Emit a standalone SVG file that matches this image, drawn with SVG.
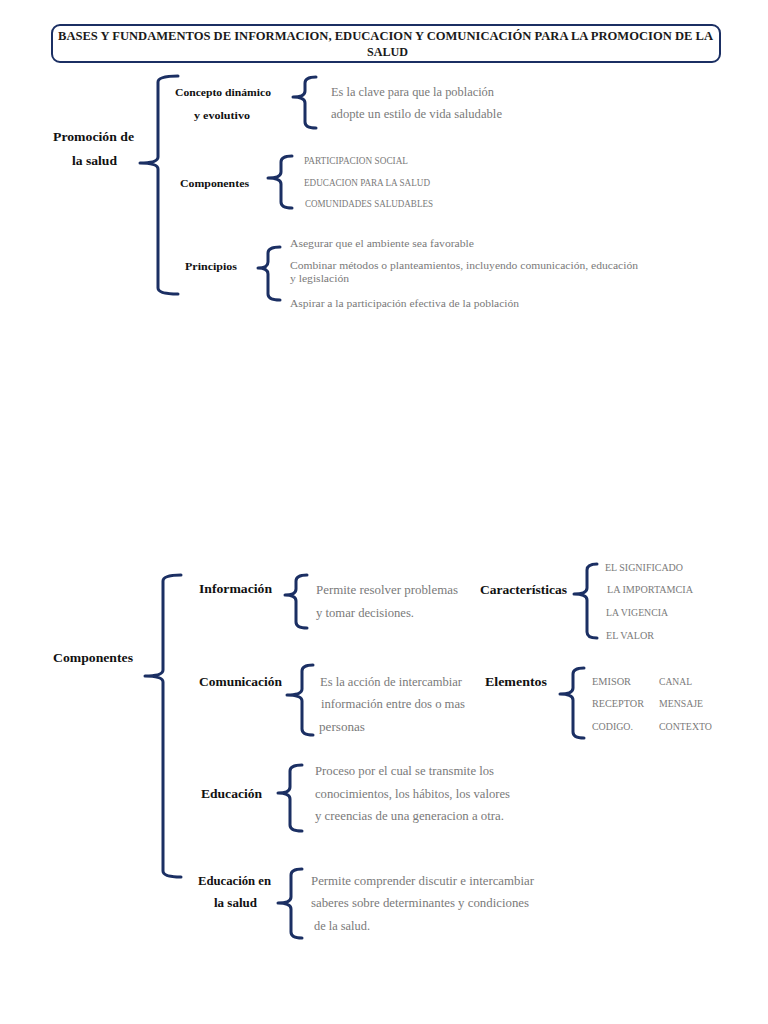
<svg xmlns="http://www.w3.org/2000/svg" width="768" height="1024" viewBox="0 0 768 1024">
<style>
.b{fill:none;stroke:#1b2f63;stroke-width:3;stroke-linecap:round;stroke-linejoin:round}
.t{font-family:"Liberation Serif","DejaVu Serif",serif;font-weight:bold;font-size:12px;fill:#111}
.s{font-family:"Liberation Serif","DejaVu Serif",serif;font-weight:bold;font-size:10.5px;fill:#111}
.g{font-family:"Liberation Serif","DejaVu Serif",serif;font-size:12px;fill:#7a7a7a}
.c{font-family:"Liberation Serif","DejaVu Serif",serif;font-size:10px;fill:#7a7a7a}
.h{font-family:"Liberation Serif","DejaVu Serif",serif;font-weight:bold;font-size:12px;fill:#1a1a1a}
</style>
<rect width="768" height="1024" fill="#fff"/>
<g id="title">
<rect x="52" y="25" width="668" height="37" rx="8" fill="#fff" stroke="#1b2f63" stroke-width="2"/>
<text class="h" x="58" y="40" textLength="655" lengthAdjust="spacingAndGlyphs">BASES Y FUNDAMENTOS DE INFORMACION, EDUCACION Y COMUNICACIÓN PARA LA PROMOCION DE LA</text>
<text class="h" x="367" y="56" textLength="41" lengthAdjust="spacingAndGlyphs">SALUD</text>
</g>
<g id="connectors">
<path class="b" d="M178,76 Q158,76 158,82 L158,157 Q158,163 140,163 Q158,163 158,169 L158,288 Q158,294 178,294"/>
<path class="b" d="M316,77 Q305,77 305,83 L305,91 Q305,97 293,97 Q305,97 305,103 L305,122 Q305,128 316,128"/>
<path class="b" d="M292,156 Q281,156 281,162 L281,172 Q281,178 268,178 Q281,178 281,184 L281,202 Q281,208 292,208"/>
<path class="b" d="M280,247 Q268,247 268,253 L268,262 Q268,268 258,268 Q268,268 268,274 L268,294 Q268,300 280,300"/>
<path class="b" d="M181,575 Q163,575 163,581 L163,670 Q163,676 145,676 Q163,676 163,682 L163,871 Q163,877 181,877"/>
<path class="b" d="M307,575 Q296,575 296,581 L296,589 Q296,595 285,595 Q296,595 296,601 L296,622 Q296,628 307,628"/>
<path class="b" d="M597,564 Q587,564 587,570 L587,588 Q587,594 574,594 Q587,594 587,600 L587,632 Q587,638 597,638"/>
<path class="b" d="M313,665 Q302,665 302,671 L302,689 Q302,695 287,695 Q302,695 302,701 L302,729 Q302,735 313,735"/>
<path class="b" d="M584,668 Q573,668 573,674 L573,688 Q573,694 560,694 Q573,694 573,700 L573,732 Q573,738 584,738"/>
<path class="b" d="M302,765 Q290,765 290,771 L290,787 Q290,793 278,793 Q290,793 290,799 L290,825 Q290,831 302,831"/>
<path class="b" d="M302,869 Q291,869 291,875 L291,897 Q291,903 278,903 Q291,903 291,909 L291,932 Q291,938 302,938"/>
</g>
<g id="promocion">
<text class="t" x="53" y="141" textLength="81" lengthAdjust="spacingAndGlyphs">Promoción de</text>
<text class="t" x="72" y="165" textLength="45" lengthAdjust="spacingAndGlyphs">la salud</text>
</g>
<g id="concepto">
<text class="s" x="175" y="96" textLength="96" lengthAdjust="spacingAndGlyphs">Concepto dinámico</text>
<text class="s" x="194" y="119" textLength="56" lengthAdjust="spacingAndGlyphs">y evolutivo</text>
</g>
<g id="concepto-desc">
<text class="g" x="331" y="96" textLength="163" lengthAdjust="spacingAndGlyphs">Es la clave para que la población</text>
<text class="g" x="331" y="118" textLength="171" lengthAdjust="spacingAndGlyphs">adopte un estilo de vida saludable</text>
</g>
<g id="componentes1">
<text class="s" x="180" y="187" textLength="69" lengthAdjust="spacingAndGlyphs">Componentes</text>
</g>
<g id="componentes1-list">
<text class="c" x="304" y="164" textLength="104" lengthAdjust="spacingAndGlyphs">PARTICIPACION SOCIAL</text>
<text class="c" x="304" y="186" textLength="126" lengthAdjust="spacingAndGlyphs">EDUCACION PARA LA SALUD</text>
<text class="c" x="305" y="207" textLength="128" lengthAdjust="spacingAndGlyphs">COMUNIDADES SALUDABLES</text>
</g>
<g id="principios">
<text class="s" x="185" y="270" textLength="52" lengthAdjust="spacingAndGlyphs">Principios</text>
</g>
<g id="principios-list">
<text class="c" x="290" y="247" textLength="184" lengthAdjust="spacingAndGlyphs">Asegurar que el ambiente sea favorable</text>
<text class="c" x="290" y="269" textLength="348" lengthAdjust="spacingAndGlyphs">Combinar métodos o planteamientos, incluyendo comunicación, educación</text>
<text class="c" x="290" y="282" textLength="59" lengthAdjust="spacingAndGlyphs">y legislación</text>
<text class="c" x="290" y="307" textLength="229" lengthAdjust="spacingAndGlyphs">Aspirar a la participación efectiva de la población</text>
</g>
<g id="componentes2">
<text class="t" x="53" y="662" textLength="80" lengthAdjust="spacingAndGlyphs">Componentes</text>
</g>
<g id="informacion">
<text class="t" x="199" y="593" textLength="73" lengthAdjust="spacingAndGlyphs">Información</text>
</g>
<g id="informacion-desc">
<text class="g" x="316" y="594" textLength="142" lengthAdjust="spacingAndGlyphs">Permite resolver problemas</text>
<text class="g" x="316" y="617" textLength="98" lengthAdjust="spacingAndGlyphs">y tomar decisiones.</text>
</g>
<g id="caracteristicas">
<text class="t" x="480" y="594" textLength="87" lengthAdjust="spacingAndGlyphs">Características</text>
</g>
<g id="caracteristicas-list">
<text class="c" x="605" y="571" textLength="78" lengthAdjust="spacingAndGlyphs">EL SIGNIFICADO</text>
<text class="c" x="607" y="593" textLength="86" lengthAdjust="spacingAndGlyphs">LA IMPORTAMCIA</text>
<text class="c" x="606" y="616" textLength="62" lengthAdjust="spacingAndGlyphs">LA VIGENCIA</text>
<text class="c" x="606" y="639" textLength="48" lengthAdjust="spacingAndGlyphs">EL VALOR</text>
</g>
<g id="comunicacion">
<text class="t" x="199" y="686" textLength="83" lengthAdjust="spacingAndGlyphs">Comunicación</text>
</g>
<g id="comunicacion-desc">
<text class="g" x="320" y="686" textLength="142" lengthAdjust="spacingAndGlyphs">Es la acción de intercambiar</text>
<text class="g" x="321" y="708" textLength="144" lengthAdjust="spacingAndGlyphs">información entre dos o mas</text>
<text class="g" x="319" y="731" textLength="46" lengthAdjust="spacingAndGlyphs">personas</text>
</g>
<g id="elementos">
<text class="t" x="485" y="686" textLength="62" lengthAdjust="spacingAndGlyphs">Elementos</text>
</g>
<g id="elementos-list">
<text class="c" x="592" y="685" textLength="39" lengthAdjust="spacingAndGlyphs">EMISOR</text>
<text class="c" x="659" y="685" textLength="33" lengthAdjust="spacingAndGlyphs">CANAL</text>
<text class="c" x="592" y="707" textLength="52" lengthAdjust="spacingAndGlyphs">RECEPTOR</text>
<text class="c" x="659" y="707" textLength="44" lengthAdjust="spacingAndGlyphs">MENSAJE</text>
<text class="c" x="592" y="730" textLength="41" lengthAdjust="spacingAndGlyphs">CODIGO.</text>
<text class="c" x="659" y="730" textLength="53" lengthAdjust="spacingAndGlyphs">CONTEXTO</text>
</g>
<g id="educacion">
<text class="t" x="201" y="798" textLength="61" lengthAdjust="spacingAndGlyphs">Educación</text>
</g>
<g id="educacion-desc">
<text class="g" x="315" y="775" textLength="179" lengthAdjust="spacingAndGlyphs">Proceso por el cual se transmite los</text>
<text class="g" x="315" y="798" textLength="195" lengthAdjust="spacingAndGlyphs">conocimientos, los hábitos, los valores</text>
<text class="g" x="315" y="820" textLength="189" lengthAdjust="spacingAndGlyphs">y creencias de una generacion a otra.</text>
</g>
<g id="educacion-salud">
<text class="t" x="198" y="885" textLength="73" lengthAdjust="spacingAndGlyphs">Educación en</text>
<text class="t" x="214" y="907" textLength="43" lengthAdjust="spacingAndGlyphs">la salud</text>
</g>
<g id="educacion-salud-desc">
<text class="g" x="311" y="885" textLength="223" lengthAdjust="spacingAndGlyphs">Permite comprender discutir e intercambiar</text>
<text class="g" x="311" y="907" textLength="218" lengthAdjust="spacingAndGlyphs">saberes sobre determinantes y condiciones</text>
<text class="g" x="314" y="930" textLength="56" lengthAdjust="spacingAndGlyphs">de la salud.</text>
</g>
</svg>
